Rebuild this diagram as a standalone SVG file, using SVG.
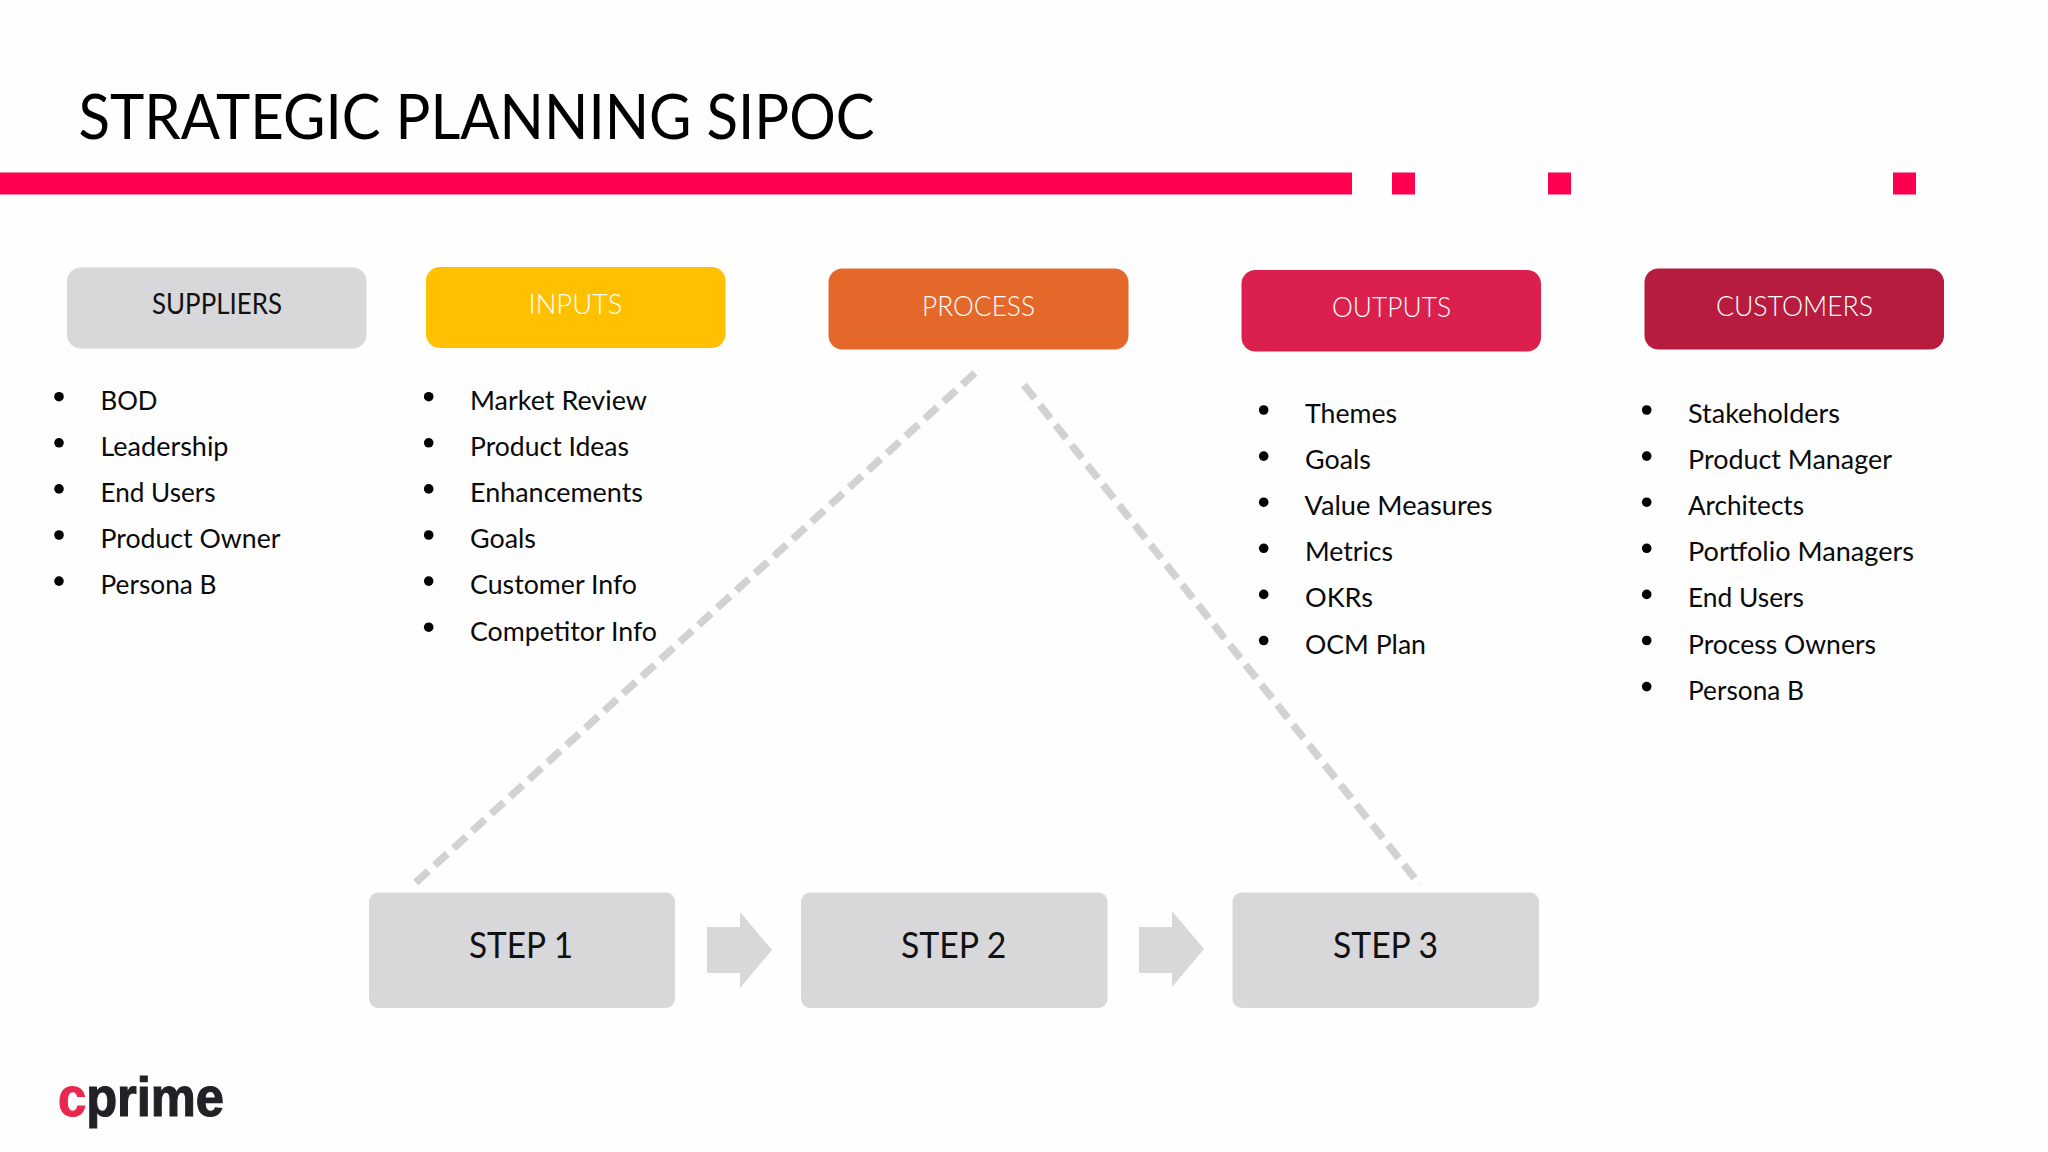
<svg xmlns="http://www.w3.org/2000/svg" width="2048" height="1152" viewBox="0 0 2048 1152">
<style>
text{font-family:"Lato","Open Sans","Liberation Sans",sans-serif;}
.title{font-size:62px;font-weight:400;fill:#000;}
.hd{font-size:28px;font-weight:300;text-anchor:start;}
.dk{fill:#111;font-weight:400;}
.wh{fill:#fff;}
.li{font-size:27.5px;font-weight:400;fill:#0a0a0a;}
.step{font-size:37px;font-weight:400;fill:#111;}
.red{fill:#ff0050;}
.gray{fill:#d8d7da;}
.b{fill:#000;}
.dash{fill:none;stroke:#d2d1d4;stroke-width:7.500;stroke-dasharray:17 8.500;}
.logo{font-family:"Liberation Sans",Arial,sans-serif;font-size:56px;font-weight:700;fill:#222226;stroke:#222226;stroke-width:1.200;}
</style>
<rect width="2048" height="1152" fill="#fefefe"/>
<g id="title"><text class="title" x="78.500" y="139" textLength="796" lengthAdjust="spacingAndGlyphs">STRATEGIC PLANNING SIPOC</text></g>
<g id="rule">
<rect class="red" x="0" y="172.500" width="1352" height="22"/>
<rect class="red" x="1392" y="172.500" width="23" height="22"/>
<rect class="red" x="1548" y="172.500" width="23" height="22"/>
<rect class="red" x="1893" y="172.500" width="23" height="22"/>
</g>
<g id="connectors">
<path class="dash" d="M975 373L412 886"/>
<path class="dash" d="M1024 385L1420 885"/>
<path class="gray" d="M707 927H740V912L772 950L740 988V973H707Z"/>
<path class="gray" d="M1139 927H1172V911L1204 949L1172 987V973H1139Z"/>
</g>
<g id="suppliers">
<rect x="67" y="267.500" width="299.500" height="81" rx="14" class="gray"/>
<text class="hd dk" x="152" y="314" textLength="130" lengthAdjust="spacingAndGlyphs">SUPPLIERS</text>
<g class="b"><circle cx="59" cy="396.700" r="4.800"/><circle cx="59" cy="442.800" r="4.800"/><circle cx="59" cy="488.900" r="4.800"/><circle cx="59" cy="535" r="4.800"/><circle cx="59" cy="581.100" r="4.800"/></g>
<text class="li" x="100.500" y="410" textLength="57" lengthAdjust="spacingAndGlyphs">BOD</text>
<text class="li" x="100.500" y="456.100" textLength="128" lengthAdjust="spacingAndGlyphs">Leadership</text>
<text class="li" x="100.500" y="502.200" textLength="115" lengthAdjust="spacingAndGlyphs">End Users</text>
<text class="li" x="100.500" y="548.300" textLength="180" lengthAdjust="spacingAndGlyphs">Product Owner</text>
<text class="li" x="100.500" y="594.400" textLength="116" lengthAdjust="spacingAndGlyphs">Persona B</text>
</g>
<g id="inputs">
<rect x="426" y="267" width="299.500" height="81" rx="14" fill="#ffc000"/>
<text class="hd wh" x="528.500" y="314" textLength="94" lengthAdjust="spacingAndGlyphs">INPUTS</text>
<g class="b"><circle cx="428.700" cy="396.700" r="4.800"/><circle cx="428.700" cy="442.800" r="4.800"/><circle cx="428.700" cy="488.900" r="4.800"/><circle cx="428.700" cy="535" r="4.800"/><circle cx="428.700" cy="581.100" r="4.800"/><circle cx="428.700" cy="627.200" r="4.800"/></g>
<text class="li" x="470" y="410" textLength="177" lengthAdjust="spacingAndGlyphs">Market Review</text>
<text class="li" x="470" y="456.100" textLength="159" lengthAdjust="spacingAndGlyphs">Product Ideas</text>
<text class="li" x="470" y="502.200" textLength="173" lengthAdjust="spacingAndGlyphs">Enhancements</text>
<text class="li" x="470" y="548.300" textLength="66" lengthAdjust="spacingAndGlyphs">Goals</text>
<text class="li" x="470" y="594.400" textLength="167" lengthAdjust="spacingAndGlyphs">Customer Info</text>
<text class="li" x="470" y="640.500" textLength="187" lengthAdjust="spacingAndGlyphs">Competitor Info</text>
</g>
<g id="process">
<rect x="828.500" y="268.500" width="300" height="81" rx="14" fill="#e5682b"/>
<text class="hd wh" x="922" y="315.500" textLength="113" lengthAdjust="spacingAndGlyphs">PROCESS</text>
</g>
<g id="outputs">
<rect x="1241.500" y="270" width="299.500" height="81.500" rx="14" fill="#dc204e"/>
<text class="hd wh" x="1332" y="316.500" textLength="119" lengthAdjust="spacingAndGlyphs">OUTPUTS</text>
<g class="b"><circle cx="1263.700" cy="410" r="4.800"/><circle cx="1263.700" cy="456.100" r="4.800"/><circle cx="1263.700" cy="502.200" r="4.800"/><circle cx="1263.700" cy="548.300" r="4.800"/><circle cx="1263.700" cy="594.400" r="4.800"/><circle cx="1263.700" cy="640.500" r="4.800"/></g>
<text class="li" x="1305" y="423" textLength="92" lengthAdjust="spacingAndGlyphs">Themes</text>
<text class="li" x="1305" y="469.100" textLength="66" lengthAdjust="spacingAndGlyphs">Goals</text>
<text class="li" x="1304.500" y="515.200" textLength="188" lengthAdjust="spacingAndGlyphs">Value Measures</text>
<text class="li" x="1305" y="561.300" textLength="88" lengthAdjust="spacingAndGlyphs">Metrics</text>
<text class="li" x="1305" y="607.400" textLength="68" lengthAdjust="spacingAndGlyphs">OKRs</text>
<text class="li" x="1305" y="653.500" textLength="121" lengthAdjust="spacingAndGlyphs">OCM Plan</text>
</g>
<g id="customers">
<rect x="1644.500" y="268.500" width="299.500" height="81" rx="14" fill="#b71c3e"/>
<text class="hd wh" x="1716" y="315.500" textLength="157" lengthAdjust="spacingAndGlyphs">CUSTOMERS</text>
<g class="b"><circle cx="1646.700" cy="410" r="4.800"/><circle cx="1646.700" cy="456.100" r="4.800"/><circle cx="1646.700" cy="502.200" r="4.800"/><circle cx="1646.700" cy="548.300" r="4.800"/><circle cx="1646.700" cy="594.400" r="4.800"/><circle cx="1646.700" cy="640.500" r="4.800"/><circle cx="1646.700" cy="686.600" r="4.800"/></g>
<text class="li" x="1688" y="423" textLength="152" lengthAdjust="spacingAndGlyphs">Stakeholders</text>
<text class="li" x="1688" y="469.100" textLength="204" lengthAdjust="spacingAndGlyphs">Product Manager</text>
<text class="li" x="1688" y="515.200" textLength="116" lengthAdjust="spacingAndGlyphs">Architects</text>
<text class="li" x="1688" y="561.300" textLength="226" lengthAdjust="spacingAndGlyphs">Portfolio Managers</text>
<text class="li" x="1688" y="607.400" textLength="116" lengthAdjust="spacingAndGlyphs">End Users</text>
<text class="li" x="1688" y="653.500" textLength="188" lengthAdjust="spacingAndGlyphs">Process Owners</text>
<text class="li" x="1688" y="699.600" textLength="116" lengthAdjust="spacingAndGlyphs">Persona B</text>
</g>
<g id="step1">
<rect x="369" y="892.500" width="306" height="115.500" rx="9" class="gray"/>
<text class="step" x="469" y="958" textLength="104" lengthAdjust="spacingAndGlyphs">STEP 1</text>
</g>
<g id="step2">
<rect x="801" y="892.500" width="306.500" height="115.500" rx="9" class="gray"/>
<text class="step" x="901" y="958" textLength="105.500" lengthAdjust="spacingAndGlyphs">STEP 2</text>
</g>
<g id="step3">
<rect x="1232.500" y="892.500" width="306.500" height="115.500" rx="9" class="gray"/>
<text class="step" x="1333" y="958" textLength="105" lengthAdjust="spacingAndGlyphs">STEP 3</text>
</g>
<g id="logo"><text class="logo" x="58" y="1116" textLength="166" lengthAdjust="spacingAndGlyphs"><tspan fill="#e8284f" stroke="#e8284f">c</tspan>prime</text></g>
</svg>
